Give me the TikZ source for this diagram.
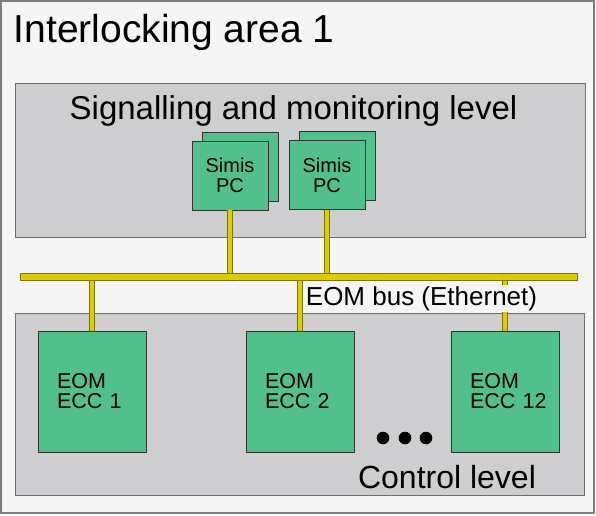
\documentclass[tikz,border=0pt]{standalone}
\usepackage{fontspec}
\setmainfont{Liberation Sans}

\definecolor{framebg}{RGB}{245,245,245}
\definecolor{frameline}{RGB}{125,125,125}
\definecolor{panelgray}{RGB}{206,206,208}
\definecolor{panelline}{RGB}{110,110,110}
\definecolor{eccgreen}{RGB}{82,192,140}
\definecolor{busyellow}{RGB}{220,205,0}
\definecolor{busedge}{RGB}{125,115,0}

\begin{document}
\begin{tikzpicture}[x=1pt, y=-1pt,
    panel/.style={draw=panelline, fill=panelgray, line width=0.8pt},
    pcbox/.style={draw=black!80, fill=eccgreen, line width=0.8pt, minimum width=76pt, minimum height=69pt,
        inner sep=0pt, align=center, font=\fontsize{20}{20}\selectfont},
    eccbox/.style={draw=black!80, fill=eccgreen, line width=0.8pt, minimum width=108pt, minimum height=121pt,
        inner xsep=19pt, text width=70pt, align=left, font=\fontsize{21.5}{20}\selectfont},
    busbar/.style={draw=busedge, fill=busyellow, line width=0.8pt, minimum width=557pt, minimum height=7pt, inner sep=0pt},
    drop/.style={draw=busedge, double=busyellow, line width=0.8pt, double distance=4pt}]
                    \useasboundingbox (0,0) rectangle (596,515);
                    \draw[draw=frameline, fill=framebg, line width=1.5pt] (1,1) rectangle (594,513);
                    \node[anchor=base west, inner sep=0pt, font=\fontsize{39}{39}\selectfont] (title) at (13.5,42) {Interlocking area 1};

                    % signalling and monitoring level
                    \draw[panel] (15,83) rectangle (585,237);
                    \node[anchor=base, inner sep=0pt, font=\fontsize{33}{33}\selectfont] (siglabel) at (293.5,119) {Signalling and monitoring level};
                    \node[pcbox] (pc1back) at (240,166.5) {};
                    \node[pcbox] (pc1) at (230,175.5) {Simis\\PC};
                    \node[pcbox] (pc2back) at (337,166) {};
                    \node[pcbox] (pc2) at (327,175) {Simis\\PC};

                    % control level
                    \draw[panel] (15,313) rectangle (584,495);
                    \node[eccbox] (ecc1) at (92,391.5) {EOM\\ECC~1};
                    \node[eccbox] (ecc2) at (300,391.5) {EOM\\ECC~2};
                    \node[eccbox] (ecc12) at (505,391.5) {EOM\\ECC~12};
                    \foreach \dx in {383,405,426}
                        \fill (\dx,438) circle (6.3pt);
                    \node[anchor=base, inner sep=0pt, font=\fontsize{32}{32}\selectfont] (ctrllabel) at (447,488) {Control level};

                    % bus
                    \coordinate (buspos) at (298.5,276.5);
                    \draw[drop] (pc1.south) -- (pc1.south |- buspos);
                    \draw[drop] (pc2.south) -- (pc2.south |- buspos);
                    \draw[drop] (ecc1.north) -- (ecc1.north |- buspos);
                    \draw[drop] (ecc2.north) -- (ecc2.north |- buspos);
                    \draw[drop] (ecc12.north) -- (ecc12.north |- buspos);
                    \node[busbar] (bus) at (buspos) {};
                    \node[anchor=base, fill=framebg, inner sep=1.5pt, font=\fontsize{26}{26}\selectfont] (buslabel) at (421.5,305) {EOM bus (Ethernet)};

                \end{tikzpicture}
\end{document}
